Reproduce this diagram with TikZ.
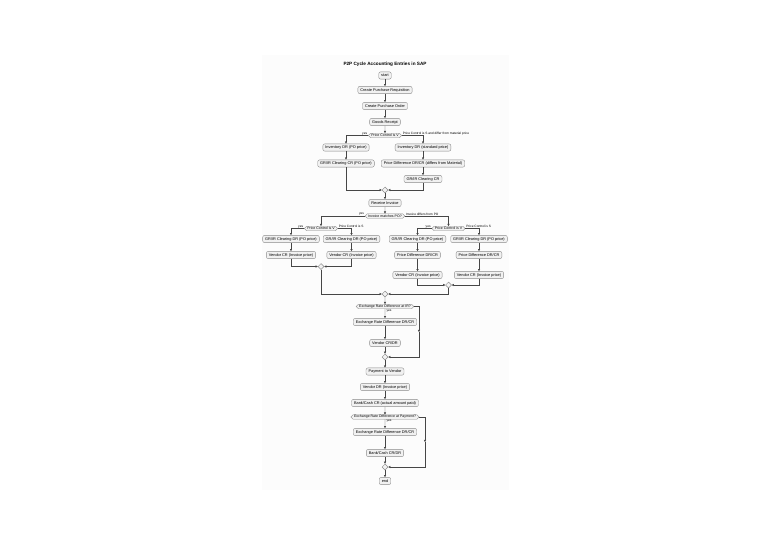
\documentclass[tikz,border=0pt]{standalone}
\usepackage{fontspec}
\setmainfont{Liberation Sans}
\usetikzlibrary{arrows.meta,shapes.geometric,shapes.symbols}

\definecolor{boxfill}{RGB}{241,241,241}
\definecolor{boxline}{RGB}{24,24,24}
\definecolor{pagebg}{RGB}{252,252,252}

\begin{document}
\begin{tikzpicture}[x=0.75pt,y=0.75pt,yscale=-1,xscale=1,
  act/.style={draw=boxline!50, line width=0.28pt, fill=boxfill, rounded corners=1.5pt, inner xsep=1.9pt, inner ysep=0pt, minimum height=5.5pt, font=\fontsize{2.9pt}{3.4pt}\selectfont},
  test/.style={shape=signal, signal to=east and west, draw=boxline!50, line width=0.28pt, fill=boxfill, inner xsep=0.6pt, inner ysep=0.3pt, minimum height=3.4pt, font=\fontsize{2.65pt}{3pt}\selectfont},
  merge/.style={diamond, draw=boxline!50, line width=0.28pt, fill=boxfill, inner sep=0pt, minimum size=4.6pt},
  lbl/.style={font=\fontsize{2.4pt}{2.8pt}\selectfont, inner sep=0.4pt},
  flow/.style={draw=boxline!80, line width=0.28pt, -{Triangle[length=1.6pt,width=1.6pt]}},
]
\useasboundingbox (0,0) rectangle (768,543);
%uncomment if require: \path (0,543);

%Page [id:bg]
\fill [pagebg] (262,55) rectangle (509,490);

% Text Node
\draw (385,64) node [font=\bfseries\fontsize{3.5pt}{4pt}\selectfont] (title) {P2P Cycle Accounting Entries in SAP};

%Goods flow
\draw (385,75.5) node [act] (start) {start};
\draw (385,90) node [act] (pr) {Create Purchase Requisition};
\draw (385,106) node [act] (po) {Create Purchase Order};
\draw (385,122) node [act] (gr) {Goods Receipt};
\draw (385,135.5) node [test] (d1) {Price Control is V};
\draw (346,147.5) node [act] (inv1) {Inventory DR (PO price)};
\draw (346,163.5) node [act] (grir1) {GR/IR Clearing CR (PO price)};
\draw (423,147.5) node [act] (inv2) {Inventory DR (standard price)};
\draw (423,163.5) node [act] (pd1) {Price Difference DR/CR (differs from Material)};
\draw (423,179) node [act] (grir2) {GR/IR Clearing CR};
\draw (385,190) node [merge] (m1) {};

%Invoice
\draw (385,203) node [act] (ri) {Receive Invoice};
\draw (385,216) node [test] (d2) {Invoice matches PO?};
\draw (321,228.5) node [test] (d3) {Price Control is V};
\draw (291,239) node [act] (n31) {GR/IR Clearing DR (PO price)};
\draw (351.5,239) node [act] (n32) {GR/IR Clearing DR (PO price)};
\draw (291,255) node [act] (n33) {Vendor CR (Invoice price)};
\draw (351.5,255) node [act] (n34) {Vendor CR (Invoice price)};
\draw (321,266.5) node [merge] (m3) {};
\draw (448.5,228.5) node [test] (d4) {Price Control is V};
\draw (417.5,239) node [act] (n41) {GR/IR Clearing DR (PO price)};
\draw (479,239) node [act] (n42) {GR/IR Clearing DR (PO price)};
\draw (417.5,255) node [act] (n43) {Price Difference DR/CR};
\draw (479,255) node [act] (n44) {Price Difference DR/CR};
\draw (417.5,275) node [act] (n45) {Vendor CR (Invoice price)};
\draw (479,275) node [act] (n46) {Vendor CR (Invoice price)};
\draw (448.5,285) node [merge] (m4) {};
\draw (385,294) node [merge] (m2) {};

%Exchange rate at IR
\draw (385,306.5) node [test] (d5) {Exchange Rate Difference at IR?};
\draw (385,322) node [act] (n51) {Exchange Rate Difference DR/CR};
\draw (385,343) node [act] (n52) {Vendor CR/DR};
\draw (385,357) node [merge] (m5) {};
\coordinate (k5) at (419,332);

%Payment
\draw (385,371.5) node [act] (pay) {Payment to Vendor};
\draw (385,387) node [act] (vdr) {Vendor DR (Invoice price)};
\draw (385,403) node [act] (bank) {Bank/Cash CR (actual amount paid)};
\draw (385,417) node [test] (d6) {Exchange Rate Difference at Payment?};
\draw (385,432) node [act] (n61) {Exchange Rate Difference DR/CR};
\draw (385,453) node [act] (n62) {Bank/Cash CR/DR};
\draw (385,467) node [merge] (m6) {};
\coordinate (k6) at (425,442);
\draw (385,481) node [act] (end) {end};

%Straight Lines
\draw [flow] (start) -- (pr);
\draw [flow] (pr) -- (po);
\draw [flow] (po) -- (gr);
\draw [flow] (gr) -- (d1);
\draw [flow] (d1.west) -| (inv1.north);
\draw [flow] (d1.east) -| (inv2.north);
\draw [flow] (inv1) -- (grir1);
\draw [flow] (inv2) -- (pd1);
\draw [flow] (pd1) -- (grir2);
\draw [flow] (grir1.south) |- (m1.west);
\draw [flow] (grir2.south) |- (m1.east);
\draw [flow] (m1) -- (ri);
\draw [flow] (ri) -- (d2);
\draw [flow] (d2.west) -| (d3.north);
\draw [flow] (d2.east) -| (d4.north);
\draw [flow] (d3.west) -| (n31.north);
\draw [flow] (d3.east) -| (n32.north);
\draw [flow] (n31) -- (n33);
\draw [flow] (n32) -- (n34);
\draw [flow] (n33.south) |- (m3.west);
\draw [flow] (n34.south) |- (m3.east);
\draw [flow] (d4.west) -| (n41.north);
\draw [flow] (d4.east) -| (n42.north);
\draw [flow] (n41) -- (n43);
\draw [flow] (n42) -- (n44);
\draw [flow] (n43) -- (n45);
\draw [flow] (n44) -- (n46);
\draw [flow] (n45.south) |- (m4.west);
\draw [flow] (n46.south) |- (m4.east);
\draw [flow] (m3.south) |- (m2.west);
\draw [flow] (m4.south) |- (m2.east);
\draw [flow] (m2) -- (d5);
\draw [flow] (d5) -- (n51);
\draw [flow] (n51) -- (n52);
\draw [flow] (n52) -- (m5);
\draw [flow] (d5.east) -| (k5);
\draw [flow] (k5) |- (m5.east);
\draw [flow] (m5) -- (pay);
\draw [flow] (pay) -- (vdr);
\draw [flow] (vdr) -- (bank);
\draw [flow] (bank) -- (d6);
\draw [flow] (d6) -- (n61);
\draw [flow] (n61) -- (n62);
\draw [flow] (n62) -- (m6);
\draw [flow] (d6.east) -| (k6);
\draw [flow] (k6) |- (m6.east);
\draw [flow] (m6) -- (end);

% Text Node
\draw (d1.west) node [lbl, anchor=south east] (y1) {yes};
\draw (d1.east) node [lbl, anchor=south west] (e1) {Price Control is S and differ from material price};
\draw (d2.west) node [lbl, anchor=south east] (y2) {yes};
\draw (d2.east) node [lbl, anchor=south west] (e2) {Invoice differs from PO};
\draw (d3.west) node [lbl, anchor=south east] (y3) {yes};
\draw (d3.east) node [lbl, anchor=south west] (e3) {Price Control is S};
\draw (d4.west) node [lbl, anchor=south east] (y4) {yes};
\draw (d4.east) node [lbl, anchor=south west] (e4) {Price Control is S};
\draw (d5.south) node [lbl, anchor=north west, xshift=0.6pt] (y5) {yes};
\draw (d6.south) node [lbl, anchor=north west, xshift=0.6pt] (y6) {yes};

\end{tikzpicture}
\end{document}
